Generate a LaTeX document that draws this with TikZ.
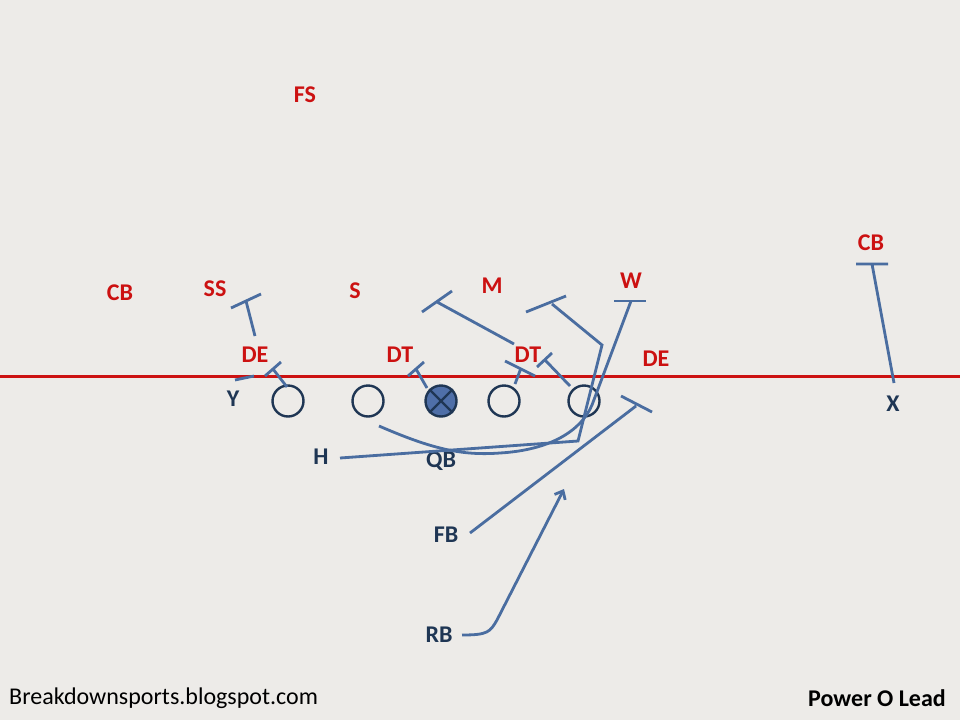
\documentclass[tikz,border=0pt]{standalone}
\usepackage{fontspec}
\setmainfont{Carlito}
\usetikzlibrary{arrows.meta}
\definecolor{bg}{HTML}{EDEBE8}
\definecolor{rt}{HTML}{CC1111}
\definecolor{nv}{HTML}{1F3654}
\definecolor{bl}{HTML}{4A6DA0}
\definecolor{cf}{HTML}{4F6FA8}
\tikzset{
  dlab/.style={text=rt,font=\bfseries\fontsize{24}{28}\selectfont,inner sep=0pt},
  olab/.style={text=nv,font=\bfseries\fontsize{24}{28}\selectfont,inner sep=0pt},
  lineman/.style={circle,draw=nv,line width=2.4pt,minimum size=31pt,inner sep=0pt},
  route/.style={draw=bl,line width=2.8pt},
}
\begin{document}
\begin{tikzpicture}[x=1pt,y=-1pt]
\fill[bg] (0,0) rectangle (960,720);
\useasboundingbox (0,0) rectangle (960,720);
% line of scrimmage
\draw[rt,line width=3pt] (0,376) -- (960,376);

% defence labels
\node[dlab] (fs) at (305,95) {FS};
\node[dlab] (cbl) at (120,293) {CB};
\node[dlab] (ss) at (215,289) {SS};
\node[dlab] (s) at (355,291) {S};
\node[dlab] (m) at (492,286) {M};
\node[dlab] (w) at (631,281) {W};
\node[dlab] (cbr) at (871,243) {CB};
\node[dlab] (del) at (255,355) {DE};
\node[dlab] (dtl) at (400,355) {DT};
\node[dlab] (dtr) at (528,355) {DT};
\node[dlab] (der) at (656,359) {DE};

% offensive line
\node[lineman] (lt) at (288,401) {};
\node[lineman] (lg) at (368,401) {};
\node[lineman,fill=cf] (c) at (441,401) {};
\draw[nv,line width=2.2pt] (c.north west) -- (c.south east) (c.north east) -- (c.south west);
\node[lineman] (rg) at (504,401) {};
\node[lineman] (rt) at (584,401) {};

% offence labels
\node[olab] (y) at (233,399) {Y};
\node[olab] (x) at (893,404) {X};
\node[olab] (h) at (321,457) {H};
\node[olab] (qb) at (441,461) {QB};
\node[olab] (fb) at (446,535) {FB};
\node[olab] (rb) at (439,635) {RB};

% route points
\coordinate (y1) at (235,380);
\coordinate (y2) at (254,376);
% SS
\coordinate (ssA) at (255,336);
\coordinate (ssB) at (246,301);
\coordinate (ssL) at (231,308);
\coordinate (ssR) at (261,294);
% left tackle
\coordinate (ltA) at (287,387);
\coordinate (ltB) at (273,369);
\coordinate (ltL) at (265,376);
\coordinate (ltR) at (281,362);
% centre
\coordinate (cA) at (427,388);
\coordinate (cB) at (416,369);
\coordinate (cL) at (408,376);
\coordinate (cR) at (424,362);
% right guard
\coordinate (rgA) at (515,384);
\coordinate (rgB) at (521,368);
\coordinate (rgL) at (505,361);
\coordinate (rgR) at (535,376);
% right tackle
\coordinate (rtA) at (570,386);
\coordinate (rtB) at (545,360);
\coordinate (rtL) at (537,367);
\coordinate (rtR) at (552,353);
% M block
\coordinate (mA) at (514,344);
\coordinate (mB) at (437,302);
\coordinate (mL) at (422,312);
\coordinate (mR) at (452,291);
% H
\coordinate (hA) at (340,458);
\coordinate (hB) at (578,441);
\coordinate (hC) at (602,345);
\coordinate (hD) at (552,304);
\coordinate (hL) at (526,312);
\coordinate (hR) at (566,296);
% pulling guard
\coordinate (pA) at (379,426);
\coordinate (pB) at (500,453);
\coordinate (pC) at (592,405);
\coordinate (pD) at (631,301);
\coordinate (pL) at (614,301);
\coordinate (pR) at (646,301);
% FB
\coordinate (fbA) at (470,533);
\coordinate (fbB) at (636,406);
\coordinate (fbL) at (621,396);
\coordinate (fbR) at (652,412);
% RB
\coordinate (rbA) at (462,635);
\coordinate (rbB) at (497,620);
\coordinate (rbC) at (564,489);
% X
\coordinate (xA) at (894,383);
\coordinate (xB) at (872,264);
\coordinate (xL) at (856,264);
\coordinate (xR) at (888,264);

% routes
\draw[route] (y1) -- (y2);
\draw[route] (ssA) -- (ssB) (ssL) -- (ssR);
\draw[route] (ltA) -- (ltB) (ltL) -- (ltR);
\draw[route] (cA) -- (cB) (cL) -- (cR);
\draw[route] (rgA) -- (rgB) (rgL) -- (rgR);
\draw[route] (rtA) -- (rtB) (rtL) -- (rtR);
\draw[route] (mA) -- (mB) (mL) -- (mR);
\draw[route,line join=miter] (hA) -- (hB) -- (hC) -- (hD);
\draw[route] (hL) -- (hR);
\draw[route] (pA) .. controls (430,448) and (460,456) .. (pB) .. controls (550,450) and (581,431) .. (pC) -- (pD);
\draw[route] (pL) -- (pR);
\draw[route] (fbA) -- (fbB) (fbL) -- (fbR);
\draw[route,-{Straight Barb[length=7pt,width=12pt,line width=2.8pt]}] (rbA) .. controls (488,635) and (490,632) .. (rbB) -- (rbC);
\draw[route] (xA) -- (xB) (xL) -- (xR);

% footer
\node[text=black,font=\fontsize{24}{28}\selectfont,anchor=west,inner sep=0pt] (site) at (9,698) {Breakdownsports.blogspot.com};
\node[text=black,font=\bfseries\fontsize{24}{28}\selectfont,anchor=east,inner sep=0pt] (title) at (946,698) {Power O Lead};
\end{tikzpicture}
\end{document}
